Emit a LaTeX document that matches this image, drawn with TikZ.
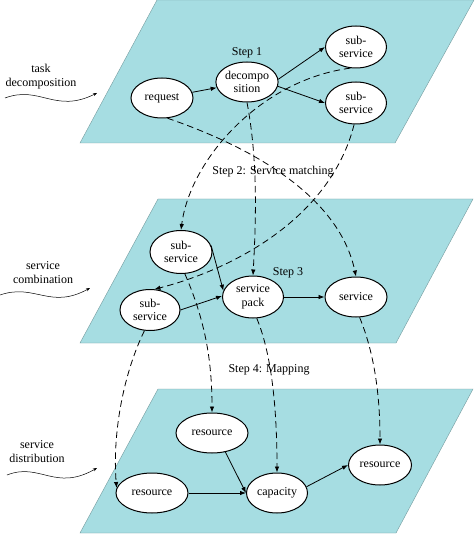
\documentclass[tikz,border=0pt]{standalone}
\usepackage{fontspec}
\setmainfont{Liberation Serif}
\usetikzlibrary{arrows.meta,shapes.geometric}
\definecolor{planecol}{RGB}{166,221,226}
\pgfdeclareradialshading{nodeshade}{\pgfpoint{0bp}{0bp}}{color(0bp)=(white); color(32bp)=(white); color(50bp)=(black!28)}
\tikzset{
  plane/.style={fill=planecol,draw=planecol!70!black,line width=0.4pt},
  ell/.style={ellipse,draw=black,line width=1pt,inner sep=0pt,align=center,
    shading=nodeshade,font=\fontsize{12}{13.5}\selectfont},
  lbl/.style={font=\fontsize{12}{14}\selectfont,align=center,inner sep=0pt},
  solidarr/.style={line width=0.8pt,-{Latex[length=6pt,width=4.5pt]}},
  dasharr/.style={line width=0.8pt,dash pattern=on 6.5pt off 4pt,-{Latex[length=6pt,width=4.5pt]}},
  wavearr/.style={line width=0.5pt,-{Stealth[length=4pt,width=3pt]}}
}
\begin{document}
\begin{tikzpicture}[x=1pt,y=-1pt]
\useasboundingbox (0,0) rectangle (474,534);
\fill[white] (0,0) rectangle (474,534);
% planes
\path[plane] (157,0) -- (474,0) -- (395,143) -- (80,143) -- cycle;
\path[plane] (158,199) -- (473,199) -- (396,343) -- (80,343) -- cycle;
\path[plane] (158,389) -- (473,389) -- (396,533) -- (80,533) -- cycle;
% top layer nodes
\node[ell,minimum width=62pt,minimum height=40pt] (req) at (162,98) {request};
\node[ell,minimum width=60pt,minimum height=40pt] (dec) at (247,82) {decompo\\sition};
\node[ell,minimum width=61pt,minimum height=42pt] (ssa) at (356,47) {sub-\\service};
\node[ell,minimum width=61pt,minimum height=42pt] (ssb) at (356,103) {sub-\\service};
% middle layer nodes
\node[ell,minimum width=62pt,minimum height=43pt] (msa) at (181,252) {sub-\\service};
\node[ell,minimum width=60pt,minimum height=41pt] (msb) at (150,310) {sub-\\service};
\node[ell,minimum width=61pt,minimum height=42pt] (sp) at (253,297) {service\\pack};
\node[ell,minimum width=62pt,minimum height=40pt] (srv) at (356,297) {service};
% bottom layer nodes
\node[ell,minimum width=72pt,minimum height=40pt] (ru) at (212,433) {resource};
\node[ell,minimum width=72pt,minimum height=40pt] (rl) at (152,493) {resource};
\node[ell,minimum width=61pt,minimum height=40pt] (cap) at (277,493) {capacity};
\node[ell,minimum width=63pt,minimum height=40pt] (rr) at (380,465) {resource};
% labels
\node[lbl] (s1) at (247,53) {Step 1};
\node[lbl] (s2) at (273,172) {Step 2: Service matching};
\node[lbl] (s3) at (288,273) {Step 3};
\node[lbl] (s4) at (269,370) {Step 4: Mapping};
\node[lbl] (ltask) at (41,77) {task\\decomposition};
\node[lbl] (lcomb) at (43,273) {service\\combination};
\node[lbl] (ldist) at (37,452) {service\\distribution};
% wavy side arrows
\coordinate (wa) at (5,98);
\coordinate (wb) at (0,295);
\coordinate (wc) at (7,475);
\coordinate (wa2) at (97,93);
\coordinate (wb2) at (90,288);
\coordinate (wc2) at (97,468);
\draw[wavearr] (wa) .. controls (40,85) and (55,114) .. (wa2);
\draw[wavearr] (wb) .. controls (35,283) and (50,310) .. (wb2);
\draw[wavearr] (wc) .. controls (40,462) and (55,492) .. (wc2);
% solid arrows
\draw[solidarr] (req) -- (dec);
\draw[solidarr] (dec.5) -- (ssa.west);
\draw[solidarr] (dec.-8) -- (ssb.west);
\draw[solidarr] (msa.12) -- (sp.168);
\draw[solidarr] (msb.east) -- (sp.178);
\draw[solidarr] (sp.east) -- (srv.west);
\draw[solidarr] (ru.-55) -- (cap.west);
\draw[solidarr] (rl.east) -- (cap.west);
\draw[solidarr] (cap.12) -- (rr.west);
% dashed mapping arrows
\draw[dasharr] (req.-75) .. controls (260,150) and (340,200) .. (srv.north);
\draw[dasharr] (dec.south) .. controls (258,160) and (256,220) .. (sp.north);
\draw[dasharr] (ssa.-105) .. controls (260,80) and (190,160) .. (msa.north);
\draw[dasharr] (ssb.-95) .. controls (330,220) and (230,270) .. (msb.78);
\draw[dasharr] (msb.-105) .. controls (125,370) and (112,430) .. (rl.172);
\draw[dasharr] (msa.-80) .. controls (205,320) and (212,360) .. (ru.north);
\draw[dasharr] (sp.-80) .. controls (270,350) and (277,400) .. (cap.north);
\draw[dasharr] (srv.-80) .. controls (373,350) and (380,390) .. (rr.north);
\end{tikzpicture}
\end{document}
